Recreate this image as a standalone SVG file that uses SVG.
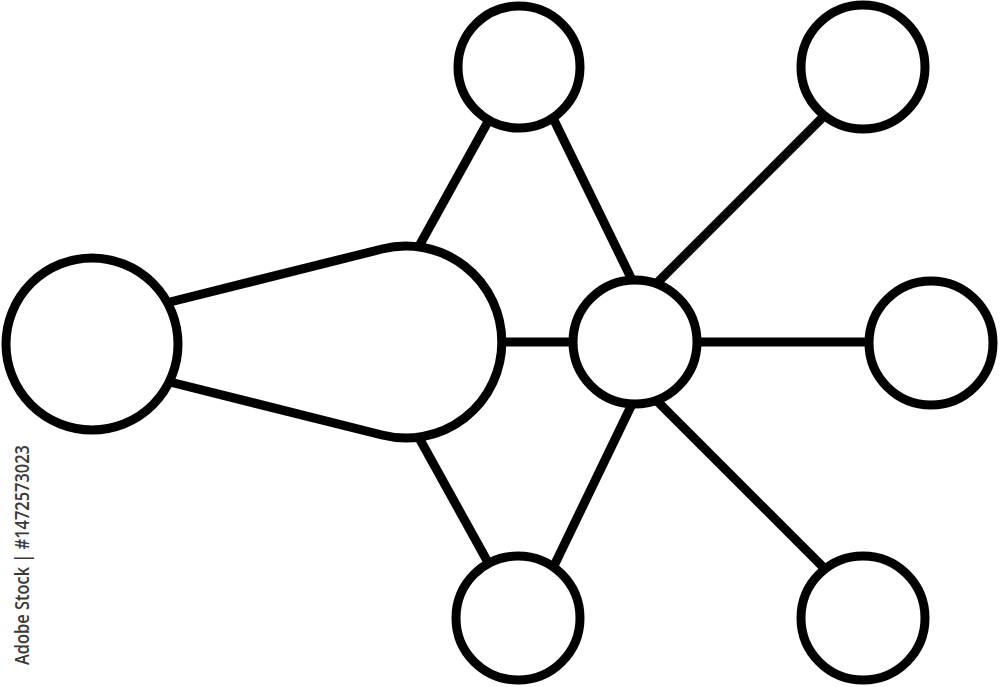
<svg xmlns="http://www.w3.org/2000/svg" width="1000" height="687" viewBox="0 0 1000 687">
<style>
.n{fill:#fff;stroke:#000;stroke-width:9}
.e{stroke:#000;stroke-width:9;stroke-linecap:butt;fill:none}
.wm{font-family:"Open Sans","Liberation Sans",sans-serif;font-size:19px;font-weight:600;fill:#3a3a3a}
</style>
<rect width="1000" height="687" fill="#fff"/>
<g id="connectors">
<line class="e" x1="490" y1="118" x2="418" y2="248"/>
<line class="e" x1="552" y1="116" x2="634" y2="284"/>
<line class="e" x1="826" y1="114" x2="656" y2="284"/>
<line class="e" x1="498" y1="342" x2="576" y2="342"/>
<line class="e" x1="696" y1="342" x2="872" y2="342"/>
<line class="e" x1="418" y1="436" x2="490" y2="566"/>
<line class="e" x1="634" y1="400" x2="552" y2="570"/>
<line class="e" x1="656" y1="400" x2="826" y2="570"/>
</g>
<g id="node-pear"><path class="n" d="M150,307 L382,249 A96,96 0 1 1 382,435 L150,377"/></g>
<g id="node-left"><circle class="n" cx="92" cy="344" r="86"/></g>
<g id="node-top-mid"><circle class="n" cx="519" cy="67" r="61"/></g>
<g id="node-top-right"><circle class="n" cx="863" cy="67" r="62"/></g>
<g id="node-center"><circle class="n" cx="635" cy="342" r="62"/></g>
<g id="node-right"><circle class="n" cx="931" cy="343" r="62"/></g>
<g id="node-bottom-mid"><circle class="n" cx="518" cy="618" r="62"/></g>
<g id="node-bottom-right"><circle class="n" cx="863" cy="618" r="62"/></g>
<text class="wm" transform="translate(29,665) rotate(-90)" textLength="220" lengthAdjust="spacingAndGlyphs">Adobe Stock | #1472573023</text>
</svg>
